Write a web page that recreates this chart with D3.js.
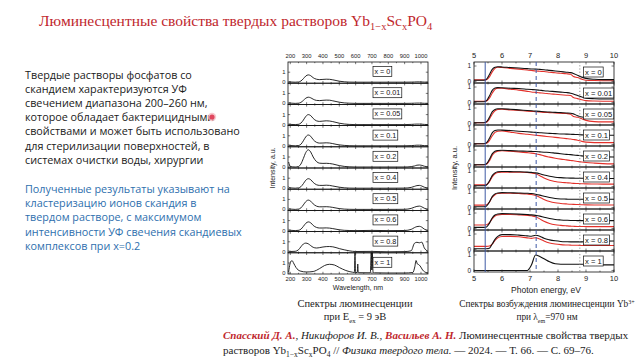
<!DOCTYPE html>
<html><head><meta charset="utf-8">
<script src="https://cdn.jsdelivr.net/npm/d3@7"></script>
<style>body{margin:0;background:#fff}svg{display:block}</style>
</head><body>
<svg id="c" width="640" height="360"></svg>
<script>
// ---------------- data ----------------
const panelLabels = ["x = 0","x = 0.01","x = 0.05","x = 0.1","x = 0.2","x = 0.4","x = 0.5","x = 0.6","x = 0.8","x = 1"];

// Luminescence spectra (left chart), intensity vs wavelength (nm)
const lumWavelengths = [190,200,230,250,265,280,295,310,325,340,360,380,400,420,440,460,480,500,530,560,600,700,800,900,940,960,975,990,1005,1020,1043];
const lumX0   = [0.05,0.02,0,0.02,0.12,0.35,0.62,0.73,0.65,0.45,0.3,0.26,0.28,0.3,0.29,0.24,0.17,0.1,0.04,0.01,0,0,0,0,0.01,0.02,0.03,0.03,0.02,0.01,0];
const lumX001 = [0.08,0.03,0,0.02,0.1,0.3,0.52,0.62,0.56,0.42,0.3,0.28,0.31,0.33,0.32,0.26,0.19,0.12,0.05,0.02,0,0,0,0,0.01,0.02,0.03,0.03,0.02,0.01,0];
const lumX005 = [0.06,0.02,0,0.03,0.15,0.45,0.82,1.0,0.9,0.62,0.38,0.32,0.35,0.38,0.36,0.3,0.22,0.14,0.06,0.02,0,0,0,0,0.02,0.04,0.05,0.05,0.04,0.02,0];
const lumX01  = [0.1,0.03,0,0.03,0.15,0.5,0.9,1.08,0.95,0.62,0.35,0.27,0.28,0.3,0.28,0.22,0.15,0.09,0.04,0.01,0,0,0,0,0.02,0.04,0.06,0.06,0.04,0.02,0];
const lumX02  = [0.5,0.05,0,0.05,0.3,0.85,1.45,1.72,1.5,1.0,0.55,0.38,0.36,0.37,0.35,0.3,0.22,0.14,0.06,0.02,0,0,0,0,0.04,0.1,0.18,0.2,0.16,0.08,0.02];
const lumX04  = [0.15,0.03,0,0.03,0.15,0.45,0.8,0.95,0.85,0.58,0.35,0.28,0.28,0.3,0.28,0.22,0.16,0.1,0.04,0.01,0,0,0,0.01,0.08,0.18,0.26,0.28,0.22,0.1,0.02];
const lumX05  = [0.12,0.03,0,0.03,0.15,0.45,0.78,0.93,0.82,0.55,0.33,0.26,0.26,0.27,0.25,0.2,0.14,0.08,0.03,0.01,0,0,0,0.01,0.1,0.22,0.3,0.33,0.26,0.12,0.02];
const lumX06  = [0.12,0.03,0,0.03,0.14,0.42,0.73,0.87,0.78,0.52,0.32,0.26,0.26,0.27,0.25,0.2,0.14,0.08,0.03,0.01,0,0.02,0,0.01,0.12,0.3,0.4,0.43,0.34,0.15,0.03];
const lumX08  = [0.1,0.03,0.05,0.2,0.5,0.78,0.87,0.8,0.62,0.45,0.38,0.42,0.48,0.52,0.53,0.5,0.42,0.32,0.2,0.1,0.03,0.04,0,0.02,0.1,0.85,0.95,0.9,0.97,0.4,0.05];
const lumX1Wavelengths = [190,198,205,212,220,235,260,300,340,380,410,440,470,500,540,580,593,596,599,610,613,616,620,690,696,699,702,705,708,715,800,900,950,962,970,978,985,995,1010,1030,1043];
const lumX1   = [0.1,0.9,1.2,1.22,1.0,0.55,0.2,0.1,0.15,0.45,0.75,0.87,0.8,0.55,0.25,0.08,0.05,2.4,0.05,0.05,0.9,0.05,0.03,0.02,2.4,0.3,2.4,0.5,0.02,0.02,0,0,0.05,0.6,1.25,0.9,0.85,0.7,0.3,0.05,0];

const lumTicks = [200,300,400,500,600,700,800,900,1000];

// Excitation spectra (right chart), intensity vs photon energy (eV)
const excEnergies = [5.0,5.35,5.45,5.55,5.65,5.75,5.85,6.0,6.3,6.6,6.9,7.05,7.2,7.35,7.5,7.7,7.9,8.1,8.3,8.45,8.55,8.7,8.85,9.0,9.3,9.6,10.0];
const excBlackX0   = [0.08,0.08,0.15,0.45,0.78,0.92,0.95,0.94,0.9,0.87,0.83,0.81,0.8,0.78,0.76,0.72,0.68,0.64,0.6,0.57,0.52,0.4,0.28,0.2,0.14,0.12,0.12];
const excRedX0     = [0.1,0.1,0.12,0.3,0.62,0.85,0.92,0.9,0.85,0.8,0.74,0.71,0.68,0.66,0.64,0.6,0.56,0.53,0.5,0.47,0.32,0.25,0.15,0.08,0.06,0.05,0.05];
const excBlackX001 = [0.05,0.05,0.12,0.42,0.78,0.93,0.96,0.95,0.92,0.9,0.86,0.84,0.82,0.79,0.76,0.73,0.7,0.67,0.64,0.6,0.55,0.45,0.35,0.28,0.24,0.22,0.22];
const excRedX001   = [0.08,0.08,0.1,0.28,0.6,0.85,0.93,0.92,0.86,0.8,0.72,0.68,0.65,0.62,0.6,0.56,0.53,0.5,0.47,0.45,0.32,0.25,0.18,0.12,0.09,0.08,0.08];
const excBlackX005 = [0.05,0.05,0.12,0.4,0.75,0.9,0.95,0.95,0.92,0.88,0.84,0.82,0.8,0.78,0.76,0.74,0.72,0.7,0.68,0.66,0.62,0.5,0.42,0.38,0.35,0.34,0.34];
const excRedX005   = [0.05,0.05,0.08,0.28,0.6,0.82,0.9,0.92,0.88,0.84,0.8,0.78,0.76,0.74,0.72,0.7,0.68,0.66,0.64,0.6,0.45,0.4,0.3,0.2,0.12,0.1,0.1];
const excBlackX01  = [0.05,0.05,0.12,0.4,0.75,0.9,0.94,0.93,0.9,0.86,0.82,0.8,0.78,0.76,0.74,0.72,0.7,0.68,0.67,0.66,0.65,0.64,0.62,0.61,0.6,0.6,0.6];
const excRedX01    = [0.05,0.05,0.08,0.25,0.55,0.78,0.86,0.88,0.8,0.72,0.66,0.63,0.6,0.57,0.54,0.5,0.46,0.42,0.38,0.35,0.32,0.27,0.2,0.15,0.12,0.12,0.12];
const excBlackX02  = [0.05,0.05,0.12,0.4,0.75,0.92,0.97,0.98,0.96,0.94,0.92,0.91,0.9,0.88,0.86,0.84,0.8,0.76,0.72,0.7,0.68,0.65,0.62,0.6,0.58,0.56,0.55];
const excRedX02    = [0.05,0.05,0.08,0.3,0.65,0.85,0.93,0.95,0.92,0.88,0.83,0.8,0.76,0.7,0.62,0.54,0.47,0.41,0.36,0.32,0.3,0.26,0.22,0.19,0.15,0.12,0.1];
const excBlackX04  = [0.05,0.05,0.1,0.35,0.7,0.88,0.95,0.97,0.96,0.95,0.93,0.91,0.88,0.82,0.74,0.66,0.6,0.57,0.55,0.54,0.54,0.53,0.53,0.53,0.52,0.52,0.52];
const excRedX04    = [0.1,0.1,0.12,0.3,0.62,0.82,0.9,0.93,0.93,0.92,0.9,0.87,0.82,0.7,0.55,0.4,0.32,0.27,0.24,0.22,0.2,0.19,0.18,0.17,0.16,0.15,0.15];
const excBlackX05  = [0.05,0.05,0.1,0.35,0.7,0.88,0.94,0.96,0.95,0.94,0.92,0.9,0.86,0.8,0.72,0.64,0.58,0.55,0.54,0.53,0.53,0.53,0.53,0.53,0.53,0.53,0.53];
const excRedX05    = [0.15,0.15,0.17,0.35,0.65,0.82,0.9,0.92,0.92,0.9,0.87,0.84,0.78,0.66,0.52,0.38,0.3,0.26,0.23,0.21,0.2,0.19,0.18,0.17,0.16,0.16,0.16];
const excBlackX06  = [0.07,0.07,0.1,0.33,0.68,0.87,0.94,0.96,0.95,0.93,0.9,0.88,0.85,0.8,0.72,0.64,0.58,0.55,0.53,0.52,0.52,0.51,0.51,0.51,0.51,0.51,0.51];
const excRedX06    = [0.22,0.22,0.24,0.38,0.62,0.8,0.88,0.9,0.9,0.88,0.85,0.82,0.76,0.62,0.46,0.32,0.24,0.2,0.17,0.15,0.14,0.13,0.13,0.12,0.12,0.12,0.12];
const excBlackX08  = [0.05,0.05,0.05,0.08,0.35,0.65,0.85,0.96,0.96,0.93,0.88,0.86,0.92,0.86,0.72,0.62,0.56,0.52,0.5,0.49,0.49,0.49,0.49,0.5,0.52,0.54,0.55];
const excRedX08    = [0.2,0.2,0.2,0.22,0.35,0.58,0.75,0.84,0.85,0.82,0.75,0.72,0.76,0.68,0.55,0.42,0.35,0.31,0.29,0.28,0.27,0.27,0.26,0.26,0.26,0.26,0.26];
const excBlackX1   = [0,0,0,0,0,0,0,0,0,0,0,0.35,1.0,0.9,0.76,0.56,0.43,0.4,0.4,0.4,0.4,0.4,0.4,0.4,0.38,0.36,0.36];

const excTicks = [5,6,7,8,9,10];
const excMarkers = [5.4, 7.22, 8.78]; // solid, dashed, dotted vertical lines

// ---------------- build ----------------
const lumSeries = [
  {wl: lumWavelengths, v: lumX0}, {wl: lumWavelengths, v: lumX001}, {wl: lumWavelengths, v: lumX005},
  {wl: lumWavelengths, v: lumX01}, {wl: lumWavelengths, v: lumX02}, {wl: lumWavelengths, v: lumX04},
  {wl: lumWavelengths, v: lumX05}, {wl: lumWavelengths, v: lumX06}, {wl: lumWavelengths, v: lumX08},
  {wl: lumX1Wavelengths, v: lumX1}
];
const excBlack = [excBlackX0, excBlackX001, excBlackX005, excBlackX01, excBlackX02, excBlackX04, excBlackX05, excBlackX06, excBlackX08, excBlackX1];
const excRed   = [excRedX0, excRedX001, excRedX005, excRedX01, excRedX02, excRedX04, excRedX05, excRedX06, excRedX08, null];

const svg = d3.select("#c");
const SANS = "'Liberation Sans', Arial, sans-serif";
const SERIF = "'Liberation Serif', 'Times New Roman', serif";

// ---- Title ----
const title = svg.append("text").attr("x", 39).attr("y", 26)
  .attr("font-family", SERIF).attr("font-size", 15.5).attr("fill", "#c0272d");
function addFormula(t, base, sub) {
  const d = base*0.28;
  t.append("tspan").text("Yb");
  t.append("tspan").attr("dy", d).attr("font-size", sub).text("1−x");
  t.append("tspan").attr("dy", -d).text("Sc");
  t.append("tspan").attr("dy", d).attr("font-size", sub).text("x");
  t.append("tspan").attr("dy", -d).text("PO");
  t.append("tspan").attr("dy", d).attr("font-size", sub).text("4");
}
title.append("tspan").text("Люминесцентные свойства твердых растворов ");
addFormula(title, 15.5, 10.5);

// ---- Left text ----
const blackLines = ["Твердые растворы фосфатов со","скандием характеризуются УФ","свечением диапазона 200–260 нм,","которое обладает бактерицидными","свойствами и может быть использовано","для стерилизации поверхностей, в","системах очистки воды, хирургии"];
const blueLines = ["Полученные результаты указывают на","кластеризацию ионов скандия в","твердом растворе, с максимумом","интенсивности УФ свечения скандиевых","комплексов при x=0.2"];
svg.append("g").selectAll("text").data(blackLines).join("text")
  .attr("x", 25).attr("y", (d,i)=>78.5 + i*14.2)
  .attr("font-family", "'Open Sans', 'Noto Sans', sans-serif").attr("font-size", 10.8).attr("fill", "#1a1a1a").text(d=>d);
svg.append("g").selectAll("text").data(blueLines).join("text")
  .attr("x", 25).attr("y", (d,i)=>193 + i*14.2)
  .attr("font-family", "'Open Sans', 'Noto Sans', sans-serif").attr("font-size", 10.8).attr("fill", "#2e6fae").text(d=>d);
svg.append("circle").attr("cx", 212).attr("cy", 117).attr("r", 4.2).attr("fill", "#f4b3bb").attr("opacity", 0.7);
svg.append("circle").attr("cx", 212).attr("cy", 117).attr("r", 2.6).attr("fill", "#e0475e");

// ---- Left chart ----
(function(){
  const g = svg.append("g");
  const x = d3.scaleLinear([186,1043],[288,428]);
  const band = d3.scaleBand(panelLabels,[62,274]);
  const h = band.bandwidth();
  const y = d3.scaleLinear([-0.1,2.02],[h,0]);
  const line = d3.line().x(d=>x(d[0])).y(d=>y(d[1])).curve(d3.curveMonotoneX);
  const minor = d3.range(250,1001,100);
  panelLabels.forEach((lab,i)=>{
    const pg = g.append("g").attr("transform",`translate(0,${band(lab)})`);
    const cid = "clipL"+i;
    pg.append("clipPath").attr("id",cid).append("rect").attr("x",x.range()[0]).attr("y",0).attr("width",x.range()[1]-x.range()[0]).attr("height",h);
    pg.append("path").datum(d3.zip(lumSeries[i].wl, lumSeries[i].v)).attr("d",line)
      .attr("fill","none").attr("stroke","#111").attr("stroke-width",0.9).attr("clip-path",`url(#${cid})`);
    const tk = pg.append("g").attr("stroke","#222").attr("stroke-width",0.6);
    lumTicks.forEach(t=>{ tk.append("line").attr("x1",x(t)).attr("x2",x(t)).attr("y1",0).attr("y2",2.2);
                          tk.append("line").attr("x1",x(t)).attr("x2",x(t)).attr("y1",h).attr("y2",h-2.2);});
    minor.forEach(t=>{ tk.append("line").attr("x1",x(t)).attr("x2",x(t)).attr("y1",0).attr("y2",1.2);
                       tk.append("line").attr("x1",x(t)).attr("x2",x(t)).attr("y1",h).attr("y2",h-1.2);});
    [0,1].forEach(v=>{ tk.append("line").attr("x1",x.range()[0]).attr("x2",x.range()[0]+2.2).attr("y1",y(v)).attr("y2",y(v));
                       tk.append("line").attr("x1",x.range()[1]).attr("x2",x.range()[1]-2.2).attr("y1",y(v)).attr("y2",y(v));});
    pg.selectAll(".yl").data([0,1]).join("text").attr("x",285.5).attr("y",v=>y(v)+2)
      .attr("text-anchor","end").attr("font-family",SANS).attr("font-size",5.8).attr("fill","#222").text(v=>v);
    pg.append("rect").attr("x",x.range()[0]).attr("y",0).attr("width",x.range()[1]-x.range()[0]).attr("height",h)
      .attr("fill","none").attr("stroke","#111").attr("stroke-width",0.8);
    const lt = pg.append("text").attr("x",374.5).attr("y",12).attr("font-family",SANS).attr("font-size",7.2).attr("fill","#111").text(lab);
    const bb = lt.node().getBBox();
    pg.insert("rect","text:last-of-type").attr("x",bb.x-1.5).attr("y",bb.y-0.5).attr("width",bb.width+3).attr("height",bb.height+1)
      .attr("fill","#fff").attr("stroke","#111").attr("stroke-width",0.7);
    lt.raise();
  });
  g.selectAll(".tt").data(lumTicks).join("text").attr("x",d=>x(d)).attr("y",57.5).attr("text-anchor","middle")
    .attr("font-family",SANS).attr("font-size",5.8).attr("fill","#222").text(d=>d);
  g.selectAll(".bt").data(lumTicks).join("text").attr("x",d=>x(d)).attr("y",281).attr("text-anchor","middle")
    .attr("font-family",SANS).attr("font-size",5.8).attr("fill","#222").text(d=>d);
  g.append("text").attr("x",358).attr("y",290).attr("text-anchor","middle").attr("font-family",SANS).attr("font-size",7).attr("fill","#222").text("Wavelength, nm");
  g.append("text").attr("transform","translate(275,168) rotate(-90)").attr("text-anchor","middle").attr("font-family",SANS).attr("font-size",7).attr("fill","#222").text("Intensity, a.u.");
})();

// ---- Right chart ----
(function(){
  const g = svg.append("g");
  const x = d3.scaleLinear([5,10],[474,614]);
  const band = d3.scaleBand(panelLabels,[62,272]);
  const h = band.bandwidth();
  const y = d3.scaleLinear([-0.1,1.26],[h,0]);
  const line = d3.line().x(d=>x(d[0])).y(d=>y(d[1])).curve(d3.curveMonotoneX);
  const minor = d3.range(5.5,10,1);
  panelLabels.forEach((lab,i)=>{
    const pg = g.append("g").attr("transform",`translate(0,${band(lab)})`);
    if (excRed[i]) pg.append("path").datum(d3.zip(excEnergies, excRed[i])).attr("d",line)
      .attr("fill","none").attr("stroke","#e3312b").attr("stroke-width",1.1);
    pg.append("path").datum(d3.zip(excEnergies, excBlack[i])).attr("d",line)
      .attr("fill","none").attr("stroke","#111").attr("stroke-width",1.1);
    const tk = pg.append("g").attr("stroke","#222").attr("stroke-width",0.6);
    excTicks.forEach(t=>{ tk.append("line").attr("x1",x(t)).attr("x2",x(t)).attr("y1",0).attr("y2",2.5);
                          tk.append("line").attr("x1",x(t)).attr("x2",x(t)).attr("y1",h).attr("y2",h-2.5);});
    minor.forEach(t=>{ tk.append("line").attr("x1",x(t)).attr("x2",x(t)).attr("y1",0).attr("y2",1.4);
                       tk.append("line").attr("x1",x(t)).attr("x2",x(t)).attr("y1",h).attr("y2",h-1.4);});
    [0,1].forEach(v=>{ tk.append("line").attr("x1",x.range()[0]).attr("x2",x.range()[0]+2.5).attr("y1",y(v)).attr("y2",y(v));
                       tk.append("line").attr("x1",x.range()[1]).attr("x2",x.range()[1]-2.5).attr("y1",y(v)).attr("y2",y(v));});
    pg.selectAll(".yl").data([0,1]).join("text").attr("x",471).attr("y",v=>y(v)+2.3)
      .attr("text-anchor","end").attr("font-family",SANS).attr("font-size",6.5).attr("fill","#222").text(v=>v);
    pg.append("rect").attr("x",x.range()[0]).attr("y",0).attr("width",x.range()[1]-x.range()[0]).attr("height",h)
      .attr("fill","none").attr("stroke","#111").attr("stroke-width",0.8);
  });
  const top = band.range()[0], bot = band.range()[1];
  g.append("line").attr("x1",x(excMarkers[0])).attr("x2",x(excMarkers[0])).attr("y1",top).attr("y2",bot).attr("stroke","#3f5aa6").attr("stroke-width",1);
  g.append("line").attr("x1",x(excMarkers[1])).attr("x2",x(excMarkers[1])).attr("y1",top).attr("y2",bot).attr("stroke","#3f5aa6").attr("stroke-width",1).attr("stroke-dasharray","4,3");
  g.append("line").attr("x1",x(excMarkers[2])).attr("x2",x(excMarkers[2])).attr("y1",top).attr("y2",bot).attr("stroke","#888").attr("stroke-width",0.9).attr("stroke-dasharray","1.2,2");
  panelLabels.forEach((lab)=>{
    const pg = g.append("g").attr("transform",`translate(0,${band(lab)})`);
    const lt = pg.append("text").attr("x",585).attr("y",12.5).attr("font-family",SANS).attr("font-size",7.6).attr("fill","#111").text(lab);
    const bb = lt.node().getBBox();
    pg.insert("rect","text").attr("x",bb.x-1.5).attr("y",bb.y-0.5).attr("width",bb.width+3).attr("height",bb.height+1)
      .attr("fill","#fff").attr("stroke","#111").attr("stroke-width",0.7);
  });
  g.selectAll(".tt").data(excTicks).join("text").attr("x",d=>x(d)).attr("y",58).attr("text-anchor","middle")
    .attr("font-family",SANS).attr("font-size",7.5).attr("fill","#222").text(d=>d);
  g.selectAll(".bt").data(excTicks).join("text").attr("x",d=>x(d)).attr("y",281).attr("text-anchor","middle")
    .attr("font-family",SANS).attr("font-size",7.5).attr("fill","#222").text(d=>d);
  g.append("text").attr("x",546).attr("y",293).attr("text-anchor","middle").attr("font-family",SANS).attr("font-size",8.5).attr("fill","#222").text("Photon energy, eV");
  g.append("text").attr("transform","translate(457,168) rotate(-90)").attr("text-anchor","middle").attr("font-family",SANS).attr("font-size",7.5).attr("fill","#222").text("Intensity, a.u.");
})();

// ---- Captions ----
function cap(xc, yb, size, parts) {
  const t = svg.append("text").attr("x",xc).attr("y",yb).attr("text-anchor","middle")
    .attr("font-family",SERIF).attr("font-size",size).attr("fill","#222");
  parts.forEach(p=>{
    if (p.sub) t.append("tspan").attr("dy",2.5).attr("font-size",size*0.65).text(p.sub);
    else if (p.sup) t.append("tspan").attr("dy",-3.5).attr("font-size",size*0.65).text(p.sup);
    else t.append("tspan").attr("dy",p.reset||0).text(p.t);
  });
}
cap(355, 307, 10.5, [{t:"Спектры люминесценции"}]);
cap(355, 320, 10.5, [{t:"при E"},{sub:"ex"},{t:" = 9 эВ", reset:-2.5}]);
cap(547, 307, 9.3, [{t:"Спектры возбуждения люминесценции Yb"},{sup:"3+"}]);
cap(547, 320, 9.3, [{t:"при λ"},{sub:"em"},{t:"=970 нм", reset:-2.5}]);

// ---- Reference ----
const ref1 = svg.append("text").attr("x",223).attr("y",339).attr("font-family",SERIF).attr("font-size",11).attr("fill","#222");
ref1.append("tspan").attr("font-weight","bold").attr("font-style","italic").attr("fill","#c0272d").text("Спасский Д. А.");
ref1.append("tspan").attr("font-style","italic").text(", Никифоров И. В., ");
ref1.append("tspan").attr("font-weight","bold").attr("font-style","italic").attr("fill","#c0272d").text("Васильев А. Н.");
ref1.append("tspan").text(" Люминесцентные свойства твердых");
const ref2 = svg.append("text").attr("x",223).attr("y",354).attr("font-family",SERIF).attr("font-size",11).attr("fill","#222");
ref2.append("tspan").text("растворов Yb");
ref2.append("tspan").attr("dy",2.5).attr("font-size",7.5).text("1−x");
ref2.append("tspan").attr("dy",-2.5).text("Sc");
ref2.append("tspan").attr("dy",2.5).attr("font-size",7.5).text("x");
ref2.append("tspan").attr("dy",-2.5).text("PO");
ref2.append("tspan").attr("dy",2.5).attr("font-size",7.5).text("4");
ref2.append("tspan").attr("dy",-2.5).text(" // ");
ref2.append("tspan").attr("font-style","italic").text("Физика твердого тела.");
ref2.append("tspan").text(" — 2024. — Т. 66. — С. 69–76.");
</script>
</body></html>
